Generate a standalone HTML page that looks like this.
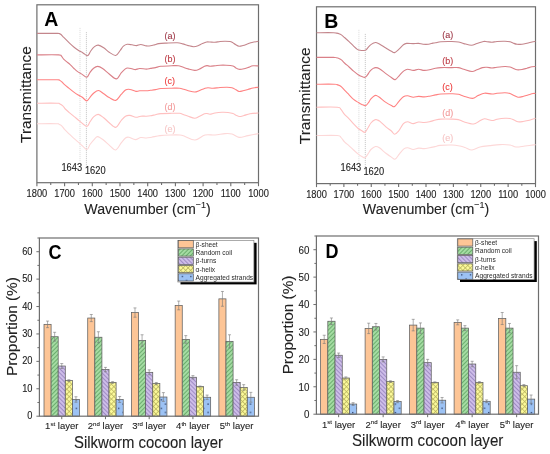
<!DOCTYPE html>
<html><head><meta charset="utf-8"><style>
html,body{margin:0;padding:0;background:#fff;}
svg{display:block;filter:blur(0.3px);}
svg text{font-family:"Liberation Sans", sans-serif;}
</style></head><body>
<svg width="550" height="454" viewBox="0 0 550 454">
<defs>
<pattern id="pg" width="3" height="3" patternUnits="userSpaceOnUse" patternTransform="rotate(45)"><rect width="3" height="3" fill="#a4dca2"/><rect x="0" y="0" width="0.65" height="3" fill="#4e9452"/></pattern>
<pattern id="pp" width="3" height="3" patternUnits="userSpaceOnUse" patternTransform="rotate(-45)"><rect width="3" height="3" fill="#cdbde8"/><rect x="0" y="0" width="0.65" height="3" fill="#8672b2"/></pattern>
<pattern id="py" width="3.5" height="3.5" patternUnits="userSpaceOnUse" patternTransform="rotate(45)"><rect width="3.5" height="3.5" fill="#fbf99a"/><rect x="0" y="0" width="0.7" height="3.5" fill="#b8b25e"/><rect x="0" y="0" width="3.5" height="0.7" fill="#b8b25e"/></pattern>
<pattern id="pbC" x="75.7" y="407.7" width="8.5" height="8.4" patternUnits="userSpaceOnUse"><rect width="8.5" height="8.4" fill="#9cc2f4"/><rect x="0" y="0" width="1.2" height="1.2" fill="#1c2a50"/><rect x="4.25" y="4.2" width="1.2" height="1.2" fill="#1c2a50"/></pattern>
<pattern id="pbD" x="394.7" y="403.5" width="8.5" height="8.4" patternUnits="userSpaceOnUse"><rect width="8.5" height="8.4" fill="#9cc2f4"/><rect x="0" y="0" width="1.2" height="1.2" fill="#1c2a50"/><rect x="4.25" y="4.2" width="1.2" height="1.2" fill="#1c2a50"/></pattern>
<pattern id="pbL" x="181.7" y="275.8" width="8.6" height="8.4" patternUnits="userSpaceOnUse"><rect width="8.6" height="8.4" fill="#9cc2f4"/><rect x="0" y="0" width="1.2" height="1.2" fill="#1c2a50"/><rect x="4.3" y="4.2" width="1.2" height="1.2" fill="#1c2a50"/></pattern>
<pattern id="pbL2" x="461.2" y="274.3" width="8.6" height="8.4" patternUnits="userSpaceOnUse"><rect width="8.6" height="8.4" fill="#9cc2f4"/><rect x="0" y="0" width="1.2" height="1.2" fill="#1c2a50"/><rect x="4.3" y="4.2" width="1.2" height="1.2" fill="#1c2a50"/></pattern>
</defs>
<rect x="36.9" y="4.8" width="221.6" height="177.89999999999998" fill="none" stroke="#6e6e6e" stroke-width="1.2"/>
<line x1="36.90" y1="182.7" x2="36.90" y2="186.2" stroke="#6e6e6e" stroke-width="1.1"/>
<line x1="50.75" y1="182.7" x2="50.75" y2="184.89999999999998" stroke="#6e6e6e" stroke-width="1.1"/>
<line x1="64.60" y1="182.7" x2="64.60" y2="186.2" stroke="#6e6e6e" stroke-width="1.1"/>
<line x1="78.45" y1="182.7" x2="78.45" y2="184.89999999999998" stroke="#6e6e6e" stroke-width="1.1"/>
<line x1="92.30" y1="182.7" x2="92.30" y2="186.2" stroke="#6e6e6e" stroke-width="1.1"/>
<line x1="106.15" y1="182.7" x2="106.15" y2="184.89999999999998" stroke="#6e6e6e" stroke-width="1.1"/>
<line x1="120.00" y1="182.7" x2="120.00" y2="186.2" stroke="#6e6e6e" stroke-width="1.1"/>
<line x1="133.85" y1="182.7" x2="133.85" y2="184.89999999999998" stroke="#6e6e6e" stroke-width="1.1"/>
<line x1="147.70" y1="182.7" x2="147.70" y2="186.2" stroke="#6e6e6e" stroke-width="1.1"/>
<line x1="161.55" y1="182.7" x2="161.55" y2="184.89999999999998" stroke="#6e6e6e" stroke-width="1.1"/>
<line x1="175.40" y1="182.7" x2="175.40" y2="186.2" stroke="#6e6e6e" stroke-width="1.1"/>
<line x1="189.25" y1="182.7" x2="189.25" y2="184.89999999999998" stroke="#6e6e6e" stroke-width="1.1"/>
<line x1="203.10" y1="182.7" x2="203.10" y2="186.2" stroke="#6e6e6e" stroke-width="1.1"/>
<line x1="216.95" y1="182.7" x2="216.95" y2="184.89999999999998" stroke="#6e6e6e" stroke-width="1.1"/>
<line x1="230.80" y1="182.7" x2="230.80" y2="186.2" stroke="#6e6e6e" stroke-width="1.1"/>
<line x1="244.65" y1="182.7" x2="244.65" y2="184.89999999999998" stroke="#6e6e6e" stroke-width="1.1"/>
<line x1="258.50" y1="182.7" x2="258.50" y2="186.2" stroke="#6e6e6e" stroke-width="1.1"/>
<text transform="translate(36.90,197.30) scale(1,1.09)" font-size="9.3" text-anchor="middle" fill="#222" stroke="#222" stroke-width="0.1">1800</text>
<text transform="translate(64.60,197.30) scale(1,1.09)" font-size="9.3" text-anchor="middle" fill="#222" stroke="#222" stroke-width="0.1">1700</text>
<text transform="translate(92.30,197.30) scale(1,1.09)" font-size="9.3" text-anchor="middle" fill="#222" stroke="#222" stroke-width="0.1">1600</text>
<text transform="translate(120.00,197.30) scale(1,1.09)" font-size="9.3" text-anchor="middle" fill="#222" stroke="#222" stroke-width="0.1">1500</text>
<text transform="translate(147.70,197.30) scale(1,1.09)" font-size="9.3" text-anchor="middle" fill="#222" stroke="#222" stroke-width="0.1">1400</text>
<text transform="translate(175.40,197.30) scale(1,1.09)" font-size="9.3" text-anchor="middle" fill="#222" stroke="#222" stroke-width="0.1">1300</text>
<text transform="translate(203.10,197.30) scale(1,1.09)" font-size="9.3" text-anchor="middle" fill="#222" stroke="#222" stroke-width="0.1">1200</text>
<text transform="translate(230.80,197.30) scale(1,1.09)" font-size="9.3" text-anchor="middle" fill="#222" stroke="#222" stroke-width="0.1">1100</text>
<text transform="translate(258.50,197.30) scale(1,1.09)" font-size="9.3" text-anchor="middle" fill="#222" stroke="#222" stroke-width="0.1">1000</text>
<line x1="80" y1="27.9" x2="80" y2="162.5" stroke="#dadada" stroke-width="1" stroke-dasharray="1,1"/>
<line x1="86.4" y1="32.2" x2="86.4" y2="166.5" stroke="#c2c2c2" stroke-width="1" stroke-dasharray="1,1"/>
<path d="M37.00,33.40 C40.42,33.40 53.75,33.33 57.50,33.40 C61.25,33.47 58.92,33.62 59.50,33.80 C60.08,33.98 60.28,33.90 61.00,34.50 C61.72,35.10 62.38,35.97 63.80,37.40 C65.22,38.83 67.73,41.42 69.50,43.10 C71.27,44.78 72.82,46.23 74.40,47.50 C75.98,48.77 77.73,49.90 79.00,50.70 C80.27,51.50 81.00,51.68 82.00,52.30 C83.00,52.92 84.12,53.83 85.00,54.40 C85.88,54.97 86.63,55.73 87.30,55.70 C87.97,55.67 88.40,55.03 89.00,54.20 C89.60,53.37 89.98,51.97 90.90,50.70 C91.82,49.43 93.27,47.53 94.50,46.60 C95.73,45.67 96.77,44.90 98.30,45.10 C99.83,45.30 101.88,46.62 103.70,47.80 C105.52,48.98 107.20,50.92 109.20,52.20 C111.20,53.48 113.88,55.78 115.70,55.50 C117.52,55.22 118.82,52.05 120.10,50.50 C121.38,48.95 122.22,47.23 123.40,46.20 C124.58,45.17 125.75,44.53 127.20,44.30 C128.65,44.07 130.55,44.58 132.10,44.80 C133.65,45.02 135.05,45.65 136.50,45.60 C137.95,45.55 139.17,44.45 140.80,44.50 C142.43,44.55 144.68,45.68 146.30,45.90 C147.92,46.12 149.15,45.97 150.50,45.80 C151.85,45.63 153.03,45.27 154.40,44.90 C155.77,44.53 156.70,43.90 158.70,43.60 C160.70,43.30 163.30,43.23 166.40,43.10 C169.50,42.97 174.58,42.67 177.30,42.80 C180.02,42.93 180.88,43.43 182.70,43.90 C184.52,44.37 186.38,45.13 188.20,45.60 C190.02,46.07 191.97,46.67 193.60,46.70 C195.23,46.73 196.53,46.32 198.00,45.80 C199.47,45.28 200.95,44.23 202.40,43.60 C203.85,42.97 205.43,42.27 206.70,42.00 C207.97,41.73 208.62,41.95 210.00,42.00 C211.38,42.05 213.33,42.38 215.00,42.30 C216.67,42.22 218.33,41.68 220.00,41.50 C221.67,41.32 223.33,41.20 225.00,41.20 C226.67,41.20 228.75,41.28 230.00,41.50 C231.25,41.72 231.58,42.00 232.50,42.50 C233.42,43.00 234.42,43.88 235.50,44.50 C236.58,45.12 237.75,46.03 239.00,46.20 C240.25,46.37 241.50,45.90 243.00,45.50 C244.50,45.10 246.50,44.30 248.00,43.80 C249.50,43.30 250.25,42.92 252.00,42.50 C253.75,42.08 257.42,41.50 258.50,41.30" fill="none" stroke="#c4868c" stroke-width="1.1"/>
<path d="M37.00,54.90 C40.60,54.90 54.53,54.70 58.60,54.90 C62.67,55.10 60.60,55.43 61.40,56.10 C62.20,56.77 62.58,58.02 63.40,58.90 C64.22,59.78 65.13,60.42 66.30,61.40 C67.47,62.38 69.12,63.62 70.40,64.80 C71.68,65.98 72.85,67.40 74.00,68.50 C75.15,69.60 76.00,70.47 77.30,71.40 C78.60,72.33 80.22,73.12 81.80,74.10 C83.38,75.08 85.43,77.60 86.80,77.30 C88.17,77.00 88.87,73.82 90.00,72.30 C91.13,70.78 92.32,69.18 93.60,68.20 C94.88,67.22 96.20,66.35 97.70,66.40 C99.20,66.45 100.68,67.23 102.60,68.50 C104.52,69.77 106.92,72.27 109.20,74.00 C111.48,75.73 114.30,79.08 116.30,78.90 C118.30,78.72 119.75,74.53 121.20,72.90 C122.65,71.27 123.92,69.92 125.00,69.10 C126.08,68.28 126.52,68.05 127.70,68.00 C128.88,67.95 130.82,68.53 132.10,68.80 C133.38,69.07 134.13,69.65 135.40,69.60 C136.67,69.55 137.88,68.58 139.70,68.50 C141.52,68.42 144.50,69.12 146.30,69.10 C148.10,69.08 148.97,68.65 150.50,68.40 C152.03,68.15 153.77,67.95 155.50,67.60 C157.23,67.25 158.18,66.62 160.90,66.30 C163.62,65.98 168.88,65.80 171.80,65.70 C174.72,65.60 176.58,65.47 178.40,65.70 C180.22,65.93 181.07,66.57 182.70,67.10 C184.33,67.63 186.20,68.35 188.20,68.90 C190.20,69.45 192.88,70.33 194.70,70.40 C196.52,70.47 197.47,69.98 199.10,69.30 C200.73,68.62 203.18,66.92 204.50,66.30 C205.82,65.68 206.08,65.62 207.00,65.60 C207.92,65.58 208.67,66.17 210.00,66.20 C211.33,66.23 213.33,65.97 215.00,65.80 C216.67,65.63 218.17,65.30 220.00,65.20 C221.83,65.10 223.83,65.07 226.00,65.20 C228.17,65.33 231.33,65.53 233.00,66.00 C234.67,66.47 235.00,67.45 236.00,68.00 C237.00,68.55 237.67,69.17 239.00,69.30 C240.33,69.43 242.50,69.10 244.00,68.80 C245.50,68.50 246.50,68.00 248.00,67.50 C249.50,67.00 251.25,66.05 253.00,65.80 C254.75,65.55 257.58,65.97 258.50,66.00" fill="none" stroke="#da8088" stroke-width="1.1"/>
<path d="M37.00,79.80 C40.33,79.80 53.23,79.73 57.00,79.80 C60.77,79.87 58.77,79.83 59.60,80.20 C60.43,80.57 61.27,81.35 62.00,82.00 C62.73,82.65 63.00,83.18 64.00,84.10 C65.00,85.02 66.30,86.12 68.00,87.50 C69.70,88.88 72.35,91.07 74.20,92.40 C76.05,93.73 77.75,94.68 79.10,95.50 C80.45,96.32 81.02,96.40 82.30,97.30 C83.58,98.20 85.52,100.90 86.80,100.90 C88.08,100.90 88.87,98.58 90.00,97.30 C91.13,96.02 92.18,94.33 93.60,93.20 C95.02,92.07 96.82,90.40 98.50,90.50 C100.18,90.60 101.92,92.62 103.70,93.80 C105.48,94.98 107.20,96.50 109.20,97.60 C111.20,98.70 113.70,100.93 115.70,100.40 C117.70,99.87 119.57,96.13 121.20,94.40 C122.83,92.67 124.23,90.87 125.50,90.00 C126.77,89.13 127.70,89.20 128.80,89.20 C129.90,89.20 130.92,89.63 132.10,90.00 C133.28,90.37 134.63,91.27 135.90,91.40 C137.17,91.53 137.97,90.90 139.70,90.80 C141.43,90.70 144.50,90.88 146.30,90.80 C148.10,90.72 148.97,90.50 150.50,90.30 C152.03,90.10 153.77,89.90 155.50,89.60 C157.23,89.30 158.18,88.73 160.90,88.50 C163.62,88.27 168.70,88.25 171.80,88.20 C174.90,88.15 177.50,88.02 179.50,88.20 C181.50,88.38 182.35,88.88 183.80,89.30 C185.25,89.72 186.38,90.25 188.20,90.70 C190.02,91.15 192.88,92.00 194.70,92.00 C196.52,92.00 197.47,91.28 199.10,90.70 C200.73,90.12 203.02,89.00 204.50,88.50 C205.98,88.00 206.58,87.73 208.00,87.70 C209.42,87.67 211.00,88.33 213.00,88.30 C215.00,88.27 217.67,87.68 220.00,87.50 C222.33,87.32 225.00,87.17 227.00,87.20 C229.00,87.23 230.50,87.27 232.00,87.70 C233.50,88.13 234.83,89.17 236.00,89.80 C237.17,90.43 237.83,91.33 239.00,91.50 C240.17,91.67 241.50,91.13 243.00,90.80 C244.50,90.47 246.33,89.97 248.00,89.50 C249.67,89.03 251.25,88.37 253.00,88.00 C254.75,87.63 257.58,87.42 258.50,87.30" fill="none" stroke="#ff8282" stroke-width="1.1"/>
<path d="M37.00,103.20 C40.33,103.20 53.25,103.10 57.00,103.20 C60.75,103.30 58.53,103.37 59.50,103.80 C60.47,104.23 61.83,104.93 62.80,105.80 C63.77,106.67 64.27,107.92 65.30,109.00 C66.33,110.08 67.52,111.03 69.00,112.30 C70.48,113.57 72.37,115.08 74.20,116.60 C76.03,118.12 77.90,119.77 80.00,121.40 C82.10,123.03 85.13,126.33 86.80,126.40 C88.47,126.47 88.87,123.40 90.00,121.80 C91.13,120.20 92.22,118.03 93.60,116.80 C94.98,115.57 96.62,114.23 98.30,114.40 C99.98,114.57 101.88,116.42 103.70,117.80 C105.52,119.18 107.20,121.10 109.20,122.70 C111.20,124.30 113.70,127.77 115.70,127.40 C117.70,127.03 119.57,122.37 121.20,120.50 C122.83,118.63 124.05,117.05 125.50,116.20 C126.95,115.35 128.17,115.22 129.90,115.40 C131.63,115.58 134.08,117.17 135.90,117.30 C137.72,117.43 139.07,116.38 140.80,116.20 C142.53,116.02 144.68,116.27 146.30,116.20 C147.92,116.13 148.97,116.05 150.50,115.80 C152.03,115.55 153.77,115.07 155.50,114.70 C157.23,114.33 158.18,113.83 160.90,113.60 C163.62,113.37 168.70,113.35 171.80,113.30 C174.90,113.25 177.50,113.07 179.50,113.30 C181.50,113.53 182.35,114.20 183.80,114.70 C185.25,115.20 186.38,115.72 188.20,116.30 C190.02,116.88 192.88,118.17 194.70,118.20 C196.52,118.23 197.47,117.23 199.10,116.50 C200.73,115.77 203.18,114.30 204.50,113.80 C205.82,113.30 206.08,113.43 207.00,113.50 C207.92,113.57 208.67,114.28 210.00,114.20 C211.33,114.12 213.00,113.32 215.00,113.00 C217.00,112.68 219.83,112.38 222.00,112.30 C224.17,112.22 226.17,112.30 228.00,112.50 C229.83,112.70 231.67,113.05 233.00,113.50 C234.33,113.95 234.92,114.70 236.00,115.20 C237.08,115.70 238.17,116.45 239.50,116.50 C240.83,116.55 242.25,115.95 244.00,115.50 C245.75,115.05 247.58,114.22 250.00,113.80 C252.42,113.38 257.08,113.13 258.50,113.00" fill="none" stroke="#ffc0c0" stroke-width="1.1"/>
<path d="M37.00,123.70 C40.23,123.70 52.73,123.60 56.40,123.70 C60.07,123.80 58.15,123.98 59.00,124.30 C59.85,124.62 60.58,124.77 61.50,125.60 C62.42,126.43 63.33,128.02 64.50,129.30 C65.67,130.58 66.98,131.82 68.50,133.30 C70.02,134.78 71.68,136.48 73.60,138.20 C75.52,139.92 77.80,141.72 80.00,143.60 C82.20,145.48 85.13,149.35 86.80,149.50 C88.47,149.65 88.72,146.23 90.00,144.50 C91.28,142.77 93.22,140.42 94.50,139.10 C95.78,137.78 96.17,136.42 97.70,136.60 C99.23,136.78 101.78,138.78 103.70,140.20 C105.62,141.62 107.20,143.47 109.20,145.10 C111.20,146.73 113.70,150.37 115.70,150.00 C117.70,149.63 119.57,144.90 121.20,142.90 C122.83,140.90 124.23,138.95 125.50,138.00 C126.77,137.05 127.15,136.93 128.80,137.20 C130.45,137.47 133.40,139.55 135.40,139.60 C137.40,139.65 138.98,137.77 140.80,137.50 C142.62,137.23 144.48,138.05 146.30,138.00 C148.12,137.95 149.42,137.60 151.70,137.20 C153.98,136.80 156.95,135.97 160.00,135.60 C163.05,135.23 166.67,135.10 170.00,135.00 C173.33,134.90 177.50,134.77 180.00,135.00 C182.50,135.23 182.50,135.57 185.00,136.40 C187.50,137.23 191.67,140.23 195.00,140.00 C198.33,139.77 201.67,135.83 205.00,135.00 C208.33,134.17 211.67,135.23 215.00,135.00 C218.33,134.77 222.17,133.77 225.00,133.60 C227.83,133.43 229.67,133.37 232.00,134.00 C234.33,134.63 236.33,137.13 239.00,137.40 C241.67,137.67 244.75,136.23 248.00,135.60 C251.25,134.97 256.75,133.93 258.50,133.60" fill="none" stroke="#fdd8d8" stroke-width="1.1"/>
<text transform="translate(164.60,39.20) scale(1,1.09)" font-size="9" fill="#9c3444" stroke="#9c3444" stroke-width="0.1">(a)</text>
<text transform="translate(164.60,61.80) scale(1,1.09)" font-size="9" fill="#bc3a44" stroke="#bc3a44" stroke-width="0.1">(b)</text>
<text transform="translate(164.60,84.40) scale(1,1.09)" font-size="9" fill="#ec3a3a" stroke="#ec3a3a" stroke-width="0.1">(c)</text>
<text transform="translate(164.60,109.60) scale(1,1.09)" font-size="9" fill="#f29a9a" stroke="#f29a9a" stroke-width="0.1">(d)</text>
<text transform="translate(164.60,131.50) scale(1,1.09)" font-size="9" fill="#f6c6c6" stroke="#f6c6c6" stroke-width="0.1">(e)</text>
<text transform="translate(61.40,170.60) scale(1,1.09)" font-size="9.3" fill="#222" stroke="#222" stroke-width="0.1">1643</text>
<text transform="translate(84.90,173.90) scale(1,1.09)" font-size="9.3" fill="#222" stroke="#222" stroke-width="0.1">1620</text>
<text transform="translate(44.30,26.20) scale(1,1.06)" font-size="19.5" font-weight="bold" fill="#000">A</text>
<text transform="translate(30.80,94.55) rotate(-90) scale(1.025,1)" font-size="15" text-anchor="middle" fill="#222" stroke="#222" stroke-width="0.1">Transmittance</text>
<text transform="translate(147.50,214.00) scale(1,1.09)" font-size="14.2" text-anchor="middle" fill="#222" stroke="#222" stroke-width="0.1">Wavenumber (cm<tspan font-size="9" dy="-5.5">&#8722;1</tspan><tspan dy="5.5">)</tspan></text>
<rect x="316.5" y="6.8" width="219.0" height="176.79999999999998" fill="none" stroke="#6e6e6e" stroke-width="1.2"/>
<line x1="316.50" y1="183.6" x2="316.50" y2="187.1" stroke="#6e6e6e" stroke-width="1.1"/>
<line x1="330.19" y1="183.6" x2="330.19" y2="185.79999999999998" stroke="#6e6e6e" stroke-width="1.1"/>
<line x1="343.88" y1="183.6" x2="343.88" y2="187.1" stroke="#6e6e6e" stroke-width="1.1"/>
<line x1="357.56" y1="183.6" x2="357.56" y2="185.79999999999998" stroke="#6e6e6e" stroke-width="1.1"/>
<line x1="371.25" y1="183.6" x2="371.25" y2="187.1" stroke="#6e6e6e" stroke-width="1.1"/>
<line x1="384.94" y1="183.6" x2="384.94" y2="185.79999999999998" stroke="#6e6e6e" stroke-width="1.1"/>
<line x1="398.62" y1="183.6" x2="398.62" y2="187.1" stroke="#6e6e6e" stroke-width="1.1"/>
<line x1="412.31" y1="183.6" x2="412.31" y2="185.79999999999998" stroke="#6e6e6e" stroke-width="1.1"/>
<line x1="426.00" y1="183.6" x2="426.00" y2="187.1" stroke="#6e6e6e" stroke-width="1.1"/>
<line x1="439.69" y1="183.6" x2="439.69" y2="185.79999999999998" stroke="#6e6e6e" stroke-width="1.1"/>
<line x1="453.38" y1="183.6" x2="453.38" y2="187.1" stroke="#6e6e6e" stroke-width="1.1"/>
<line x1="467.06" y1="183.6" x2="467.06" y2="185.79999999999998" stroke="#6e6e6e" stroke-width="1.1"/>
<line x1="480.75" y1="183.6" x2="480.75" y2="187.1" stroke="#6e6e6e" stroke-width="1.1"/>
<line x1="494.44" y1="183.6" x2="494.44" y2="185.79999999999998" stroke="#6e6e6e" stroke-width="1.1"/>
<line x1="508.12" y1="183.6" x2="508.12" y2="187.1" stroke="#6e6e6e" stroke-width="1.1"/>
<line x1="521.81" y1="183.6" x2="521.81" y2="185.79999999999998" stroke="#6e6e6e" stroke-width="1.1"/>
<line x1="535.50" y1="183.6" x2="535.50" y2="187.1" stroke="#6e6e6e" stroke-width="1.1"/>
<text transform="translate(316.50,197.70) scale(1,1.09)" font-size="9.3" text-anchor="middle" fill="#222" stroke="#222" stroke-width="0.1">1800</text>
<text transform="translate(343.88,197.70) scale(1,1.09)" font-size="9.3" text-anchor="middle" fill="#222" stroke="#222" stroke-width="0.1">1700</text>
<text transform="translate(371.25,197.70) scale(1,1.09)" font-size="9.3" text-anchor="middle" fill="#222" stroke="#222" stroke-width="0.1">1600</text>
<text transform="translate(398.62,197.70) scale(1,1.09)" font-size="9.3" text-anchor="middle" fill="#222" stroke="#222" stroke-width="0.1">1500</text>
<text transform="translate(426.00,197.70) scale(1,1.09)" font-size="9.3" text-anchor="middle" fill="#222" stroke="#222" stroke-width="0.1">1400</text>
<text transform="translate(453.38,197.70) scale(1,1.09)" font-size="9.3" text-anchor="middle" fill="#222" stroke="#222" stroke-width="0.1">1300</text>
<text transform="translate(480.75,197.70) scale(1,1.09)" font-size="9.3" text-anchor="middle" fill="#222" stroke="#222" stroke-width="0.1">1200</text>
<text transform="translate(508.12,197.70) scale(1,1.09)" font-size="9.3" text-anchor="middle" fill="#222" stroke="#222" stroke-width="0.1">1100</text>
<text transform="translate(535.50,197.70) scale(1,1.09)" font-size="9.3" text-anchor="middle" fill="#222" stroke="#222" stroke-width="0.1">1000</text>
<line x1="358.9" y1="29.8" x2="358.9" y2="163.5" stroke="#dadada" stroke-width="1" stroke-dasharray="1,1"/>
<line x1="365.3" y1="33.9" x2="365.3" y2="167.5" stroke="#c2c2c2" stroke-width="1" stroke-dasharray="1,1"/>
<path d="M316.50,32.70 C319.33,32.70 330.17,32.63 333.50,32.70 C336.83,32.77 335.58,32.93 336.50,33.10 C337.42,33.27 338.18,33.40 339.00,33.70 C339.82,34.00 340.48,34.27 341.40,34.90 C342.32,35.53 343.22,36.38 344.50,37.50 C345.78,38.62 347.58,40.15 349.10,41.60 C350.62,43.05 352.23,44.90 353.60,46.20 C354.97,47.50 356.23,48.72 357.30,49.40 C358.37,50.08 358.72,50.15 360.00,50.30 C361.28,50.45 363.78,50.60 365.00,50.30 C366.22,50.00 366.47,49.33 367.30,48.50 C368.13,47.67 368.95,46.22 370.00,45.30 C371.05,44.38 372.62,43.47 373.60,43.00 C374.58,42.53 374.93,42.33 375.90,42.50 C376.87,42.67 377.73,43.08 379.40,44.00 C381.07,44.92 383.90,46.78 385.90,48.00 C387.90,49.22 389.95,50.53 391.40,51.30 C392.85,52.07 393.33,52.97 394.60,52.60 C395.87,52.23 397.53,50.42 399.00,49.10 C400.47,47.78 402.13,45.65 403.40,44.70 C404.67,43.75 404.97,43.58 406.60,43.40 C408.23,43.22 411.20,43.60 413.20,43.60 C415.20,43.60 416.97,43.30 418.60,43.40 C420.23,43.50 421.35,44.07 423.00,44.20 C424.65,44.33 426.87,44.38 428.50,44.20 C430.13,44.02 431.63,43.33 432.80,43.10 C433.97,42.87 434.15,43.03 435.50,42.80 C436.85,42.57 438.18,41.92 440.90,41.70 C443.62,41.48 448.88,41.45 451.80,41.50 C454.72,41.55 456.40,41.65 458.40,42.00 C460.40,42.35 461.62,43.05 463.80,43.60 C465.98,44.15 469.32,45.30 471.50,45.30 C473.68,45.30 474.90,44.23 476.90,43.60 C478.90,42.97 481.82,41.82 483.50,41.50 C485.18,41.18 485.58,41.58 487.00,41.70 C488.42,41.82 490.33,42.23 492.00,42.20 C493.67,42.17 494.83,41.65 497.00,41.50 C499.17,41.35 502.83,41.25 505.00,41.30 C507.17,41.35 508.67,41.52 510.00,41.80 C511.33,42.08 511.83,42.58 513.00,43.00 C514.17,43.42 515.50,44.10 517.00,44.30 C518.50,44.50 520.33,44.38 522.00,44.20 C523.67,44.02 525.33,43.57 527.00,43.20 C528.67,42.83 530.58,42.32 532.00,42.00 C533.42,41.68 534.92,41.42 535.50,41.30" fill="none" stroke="#c4868c" stroke-width="1.1"/>
<path d="M316.50,57.40 C319.33,57.40 330.17,57.33 333.50,57.40 C336.83,57.47 335.58,57.60 336.50,57.80 C337.42,58.00 338.18,58.25 339.00,58.60 C339.82,58.95 340.48,59.17 341.40,59.90 C342.32,60.63 343.22,61.82 344.50,63.00 C345.78,64.18 347.58,65.65 349.10,67.00 C350.62,68.35 352.08,69.82 353.60,71.10 C355.12,72.38 356.83,73.80 358.20,74.70 C359.57,75.60 360.67,76.07 361.80,76.50 C362.93,76.93 364.08,77.52 365.00,77.30 C365.92,77.08 366.47,76.23 367.30,75.20 C368.13,74.17 369.02,72.23 370.00,71.10 C370.98,69.97 372.22,68.98 373.20,68.40 C374.18,67.82 374.87,67.55 375.90,67.60 C376.93,67.65 377.73,67.70 379.40,68.70 C381.07,69.70 383.90,72.13 385.90,73.60 C387.90,75.07 389.85,76.50 391.40,77.50 C392.95,78.50 393.85,79.97 395.20,79.60 C396.55,79.23 398.05,76.75 399.50,75.30 C400.95,73.85 402.53,71.90 403.90,70.90 C405.27,69.90 406.15,69.38 407.70,69.30 C409.25,69.22 411.38,70.40 413.20,70.40 C415.02,70.40 416.78,69.30 418.60,69.30 C420.42,69.30 422.28,70.32 424.10,70.40 C425.92,70.48 427.60,70.17 429.50,69.80 C431.40,69.43 433.60,68.57 435.50,68.20 C437.40,67.83 438.18,67.70 440.90,67.60 C443.62,67.50 448.88,67.60 451.80,67.60 C454.72,67.60 456.40,67.32 458.40,67.60 C460.40,67.88 461.53,68.65 463.80,69.30 C466.07,69.95 469.82,71.42 472.00,71.50 C474.18,71.58 475.17,70.45 476.90,69.80 C478.63,69.15 480.72,68.02 482.40,67.60 C484.08,67.18 485.40,67.23 487.00,67.30 C488.60,67.37 490.33,68.02 492.00,68.00 C493.67,67.98 494.83,67.45 497.00,67.20 C499.17,66.95 502.83,66.53 505.00,66.50 C507.17,66.47 508.67,66.72 510.00,67.00 C511.33,67.28 511.83,67.73 513.00,68.20 C514.17,68.67 515.50,69.58 517.00,69.80 C518.50,70.02 520.33,69.77 522.00,69.50 C523.67,69.23 525.33,68.65 527.00,68.20 C528.67,67.75 530.58,67.08 532.00,66.80 C533.42,66.52 534.92,66.55 535.50,66.50" fill="none" stroke="#da8088" stroke-width="1.1"/>
<path d="M316.50,84.20 C319.42,84.20 330.58,84.13 334.00,84.20 C337.42,84.27 336.08,84.38 337.00,84.60 C337.92,84.82 338.67,85.03 339.50,85.50 C340.33,85.97 341.17,86.62 342.00,87.40 C342.83,88.18 343.32,88.97 344.50,90.20 C345.68,91.43 347.58,93.27 349.10,94.80 C350.62,96.33 352.08,98.13 353.60,99.40 C355.12,100.67 356.83,101.57 358.20,102.40 C359.57,103.23 360.58,103.85 361.80,104.40 C363.02,104.95 364.43,105.93 365.50,105.70 C366.57,105.47 367.30,104.13 368.20,103.00 C369.10,101.87 369.85,100.12 370.90,98.90 C371.95,97.68 373.58,96.27 374.50,95.70 C375.42,95.13 375.58,95.23 376.40,95.50 C377.22,95.77 377.82,96.15 379.40,97.30 C380.98,98.45 383.90,101.02 385.90,102.40 C387.90,103.78 389.95,104.92 391.40,105.60 C392.85,106.28 393.33,107.22 394.60,106.50 C395.87,105.78 397.53,102.93 399.00,101.30 C400.47,99.67 401.95,97.62 403.40,96.70 C404.85,95.78 406.07,95.72 407.70,95.80 C409.33,95.88 411.38,97.10 413.20,97.20 C415.02,97.30 416.78,96.45 418.60,96.40 C420.42,96.35 422.28,96.93 424.10,96.90 C425.92,96.87 427.60,96.53 429.50,96.20 C431.40,95.87 433.60,95.27 435.50,94.90 C437.40,94.53 438.18,94.18 440.90,94.00 C443.62,93.82 448.88,93.77 451.80,93.80 C454.72,93.83 456.40,93.80 458.40,94.20 C460.40,94.60 461.45,95.50 463.80,96.20 C466.15,96.90 470.13,98.50 472.50,98.40 C474.87,98.30 476.00,96.47 478.00,95.60 C480.00,94.73 482.17,93.47 484.50,93.20 C486.83,92.93 489.92,93.98 492.00,94.00 C494.08,94.02 494.83,93.50 497.00,93.30 C499.17,93.10 502.83,92.77 505.00,92.80 C507.17,92.83 508.50,93.05 510.00,93.50 C511.50,93.95 512.67,94.88 514.00,95.50 C515.33,96.12 516.50,97.03 518.00,97.20 C519.50,97.37 521.33,96.87 523.00,96.50 C524.67,96.13 526.33,95.50 528.00,95.00 C529.67,94.50 531.75,93.75 533.00,93.50 C534.25,93.25 535.08,93.50 535.50,93.50" fill="none" stroke="#ff8282" stroke-width="1.1"/>
<path d="M316.50,107.20 C319.97,107.20 333.23,106.83 337.30,107.20 C341.37,107.57 339.77,108.28 340.90,109.40 C342.03,110.52 342.73,112.32 344.10,113.90 C345.47,115.48 347.52,117.23 349.10,118.90 C350.68,120.57 352.08,122.30 353.60,123.90 C355.12,125.50 356.83,127.37 358.20,128.50 C359.57,129.63 360.67,130.07 361.80,130.70 C362.93,131.33 363.93,132.83 365.00,132.30 C366.07,131.77 367.22,129.05 368.20,127.50 C369.18,125.95 369.77,124.28 370.90,123.00 C372.03,121.72 373.93,120.30 375.00,119.80 C376.07,119.30 376.47,119.73 377.30,120.00 C378.13,120.27 378.57,120.25 380.00,121.40 C381.43,122.55 384.00,125.30 385.90,126.90 C387.80,128.50 389.95,129.78 391.40,131.00 C392.85,132.22 393.42,134.17 394.60,134.20 C395.78,134.23 397.03,132.97 398.50,131.20 C399.97,129.43 401.87,125.17 403.40,123.60 C404.93,122.03 406.07,121.80 407.70,121.80 C409.33,121.80 411.38,123.57 413.20,123.60 C415.02,123.63 416.78,122.18 418.60,122.00 C420.42,121.82 422.28,122.53 424.10,122.50 C425.92,122.47 427.60,122.22 429.50,121.80 C431.40,121.38 433.60,120.45 435.50,120.00 C437.40,119.55 438.18,119.25 440.90,119.10 C443.62,118.95 448.88,119.02 451.80,119.10 C454.72,119.18 456.40,119.15 458.40,119.60 C460.40,120.05 461.27,121.07 463.80,121.80 C466.33,122.53 471.05,124.08 473.60,124.00 C476.15,123.92 477.28,122.17 479.10,121.30 C480.92,120.43 482.35,118.93 484.50,118.80 C486.65,118.67 489.92,120.42 492.00,120.50 C494.08,120.58 494.83,119.67 497.00,119.30 C499.17,118.93 502.83,118.43 505.00,118.30 C507.17,118.17 508.50,118.22 510.00,118.50 C511.50,118.78 512.67,119.45 514.00,120.00 C515.33,120.55 516.50,121.55 518.00,121.80 C519.50,122.05 521.33,121.72 523.00,121.50 C524.67,121.28 526.33,120.92 528.00,120.50 C529.67,120.08 531.75,119.37 533.00,119.00 C534.25,118.63 535.08,118.42 535.50,118.30" fill="none" stroke="#ffc0c0" stroke-width="1.1"/>
<path d="M316.50,135.50 C319.97,135.50 333.23,135.20 337.30,135.50 C341.37,135.80 339.70,136.25 340.90,137.30 C342.10,138.35 343.13,140.37 344.50,141.80 C345.87,143.23 347.58,144.53 349.10,145.90 C350.62,147.27 352.08,148.63 353.60,150.00 C355.12,151.37 356.83,153.03 358.20,154.10 C359.57,155.17 360.67,155.80 361.80,156.40 C362.93,157.00 363.93,158.17 365.00,157.70 C366.07,157.23 367.22,154.97 368.20,153.60 C369.18,152.23 369.68,150.68 370.90,149.50 C372.12,148.32 374.08,146.78 375.50,146.50 C376.92,146.22 377.67,146.67 379.40,147.80 C381.13,148.93 383.90,151.75 385.90,153.30 C387.90,154.85 389.85,156.13 391.40,157.10 C392.95,158.07 393.85,159.65 395.20,159.10 C396.55,158.55 398.05,155.50 399.50,153.80 C400.95,152.10 402.53,149.90 403.90,148.90 C405.27,147.90 406.15,147.70 407.70,147.80 C409.25,147.90 411.38,149.45 413.20,149.50 C415.02,149.55 416.78,148.25 418.60,148.10 C420.42,147.95 422.28,148.65 424.10,148.60 C425.92,148.55 427.68,148.13 429.50,147.80 C431.32,147.47 433.25,147.00 435.00,146.60 C436.75,146.20 437.17,145.67 440.00,145.40 C442.83,145.13 448.67,144.90 452.00,145.00 C455.33,145.10 457.83,145.60 460.00,146.00 C462.17,146.40 463.00,146.73 465.00,147.40 C467.00,148.07 469.50,150.07 472.00,150.00 C474.50,149.93 477.00,147.73 480.00,147.00 C483.00,146.27 486.67,146.00 490.00,145.60 C493.33,145.20 496.67,144.70 500.00,144.60 C503.33,144.50 507.33,144.60 510.00,145.00 C512.67,145.40 513.50,146.83 516.00,147.00 C518.50,147.17 521.75,146.40 525.00,146.00 C528.25,145.60 533.75,144.83 535.50,144.60" fill="none" stroke="#fdd8d8" stroke-width="1.1"/>
<text transform="translate(442.30,37.80) scale(1,1.09)" font-size="9" fill="#9c3444" stroke="#9c3444" stroke-width="0.1">(a)</text>
<text transform="translate(442.30,63.50) scale(1,1.09)" font-size="9" fill="#bc3a44" stroke="#bc3a44" stroke-width="0.1">(b)</text>
<text transform="translate(442.30,90.40) scale(1,1.09)" font-size="9" fill="#ec3a3a" stroke="#ec3a3a" stroke-width="0.1">(c)</text>
<text transform="translate(442.30,115.50) scale(1,1.09)" font-size="9" fill="#f29a9a" stroke="#f29a9a" stroke-width="0.1">(d)</text>
<text transform="translate(442.30,141.00) scale(1,1.09)" font-size="9" fill="#f6c6c6" stroke="#f6c6c6" stroke-width="0.1">(e)</text>
<text transform="translate(340.60,171.40) scale(1,1.09)" font-size="9.3" fill="#222" stroke="#222" stroke-width="0.1">1643</text>
<text transform="translate(363.40,175.00) scale(1,1.09)" font-size="9.3" fill="#222" stroke="#222" stroke-width="0.1">1620</text>
<text transform="translate(324.30,27.70) scale(1,1.06)" font-size="19.5" font-weight="bold" fill="#000">B</text>
<text transform="translate(309.80,95.80) rotate(-90) scale(1.025,1)" font-size="15" text-anchor="middle" fill="#222" stroke="#222" stroke-width="0.1">Transmittance</text>
<text transform="translate(426.00,213.90) scale(1,1.09)" font-size="14.2" text-anchor="middle" fill="#222" stroke="#222" stroke-width="0.1">Wavenumber (cm<tspan font-size="9" dy="-5.5">&#8722;1</tspan><tspan dy="5.5">)</tspan></text>
<rect x="44.00" y="324.36" width="7.10" height="91.84" fill="#fdc596" stroke="#606060" stroke-width="0.75"/>
<rect x="51.10" y="336.70" width="7.10" height="79.50" fill="url(#pg)" stroke="#606060" stroke-width="0.75"/>
<rect x="58.20" y="366.03" width="7.10" height="50.17" fill="url(#pp)" stroke="#606060" stroke-width="0.75"/>
<rect x="65.30" y="380.56" width="7.10" height="35.64" fill="url(#py)" stroke="#606060" stroke-width="0.75"/>
<rect x="72.40" y="399.48" width="7.10" height="16.72" fill="url(#pbC)" stroke="#606060" stroke-width="0.75"/>
<path d="M47.55,321.07V327.65M46.05,321.07h3M46.05,327.65h3" stroke="#777" stroke-width="0.6" fill="none"/>
<path d="M54.65,332.31V341.08M53.15,332.31h3M53.15,341.08h3" stroke="#777" stroke-width="0.6" fill="none"/>
<path d="M61.75,363.56V368.50M60.25,363.56h3M60.25,368.50h3" stroke="#777" stroke-width="0.6" fill="none"/>
<path d="M68.85,379.74V381.38M67.35,379.74h3M67.35,381.38h3" stroke="#777" stroke-width="0.6" fill="none"/>
<path d="M75.95,396.74V402.22M74.45,396.74h3M74.45,402.22h3" stroke="#777" stroke-width="0.6" fill="none"/>
<rect x="87.72" y="318.05" width="7.10" height="98.15" fill="#fdc596" stroke="#606060" stroke-width="0.75"/>
<rect x="94.82" y="337.24" width="7.10" height="78.96" fill="url(#pg)" stroke="#606060" stroke-width="0.75"/>
<rect x="101.92" y="369.59" width="7.10" height="46.61" fill="url(#pp)" stroke="#606060" stroke-width="0.75"/>
<rect x="109.02" y="382.48" width="7.10" height="33.72" fill="url(#py)" stroke="#606060" stroke-width="0.75"/>
<rect x="116.12" y="399.48" width="7.10" height="16.72" fill="url(#pbC)" stroke="#606060" stroke-width="0.75"/>
<path d="M91.27,314.49V321.62M89.77,314.49h3M89.77,321.62h3" stroke="#777" stroke-width="0.6" fill="none"/>
<path d="M98.37,331.76V342.73M96.87,331.76h3M96.87,342.73h3" stroke="#777" stroke-width="0.6" fill="none"/>
<path d="M105.47,367.40V371.79M103.97,367.40h3M103.97,371.79h3" stroke="#777" stroke-width="0.6" fill="none"/>
<path d="M112.57,381.66V383.30M111.07,381.66h3M111.07,383.30h3" stroke="#777" stroke-width="0.6" fill="none"/>
<path d="M119.67,396.46V402.49M118.17,396.46h3M118.17,402.49h3" stroke="#777" stroke-width="0.6" fill="none"/>
<rect x="131.44" y="312.57" width="7.10" height="103.63" fill="#fdc596" stroke="#606060" stroke-width="0.75"/>
<rect x="138.54" y="340.53" width="7.10" height="75.67" fill="url(#pg)" stroke="#606060" stroke-width="0.75"/>
<rect x="145.64" y="372.34" width="7.10" height="43.86" fill="url(#pp)" stroke="#606060" stroke-width="0.75"/>
<rect x="152.74" y="383.58" width="7.10" height="32.62" fill="url(#py)" stroke="#606060" stroke-width="0.75"/>
<rect x="159.84" y="397.01" width="7.10" height="19.19" fill="url(#pbC)" stroke="#606060" stroke-width="0.75"/>
<path d="M134.99,307.91V317.23M133.49,307.91h3M133.49,317.23h3" stroke="#777" stroke-width="0.6" fill="none"/>
<path d="M142.09,334.78V346.29M140.59,334.78h3M140.59,346.29h3" stroke="#777" stroke-width="0.6" fill="none"/>
<path d="M149.19,369.87V374.80M147.69,369.87h3M147.69,374.80h3" stroke="#777" stroke-width="0.6" fill="none"/>
<path d="M156.29,382.48V384.67M154.79,382.48h3M154.79,384.67h3" stroke="#777" stroke-width="0.6" fill="none"/>
<path d="M163.39,392.62V401.40M161.89,392.62h3M161.89,401.40h3" stroke="#777" stroke-width="0.6" fill="none"/>
<rect x="175.16" y="305.44" width="7.10" height="110.76" fill="#fdc596" stroke="#606060" stroke-width="0.75"/>
<rect x="182.26" y="339.44" width="7.10" height="76.76" fill="url(#pg)" stroke="#606060" stroke-width="0.75"/>
<rect x="189.36" y="377.27" width="7.10" height="38.93" fill="url(#pp)" stroke="#606060" stroke-width="0.75"/>
<rect x="196.46" y="386.59" width="7.10" height="29.61" fill="url(#py)" stroke="#606060" stroke-width="0.75"/>
<rect x="203.56" y="397.28" width="7.10" height="18.92" fill="url(#pbC)" stroke="#606060" stroke-width="0.75"/>
<path d="M178.71,301.06V309.83M177.21,301.06h3M177.21,309.83h3" stroke="#777" stroke-width="0.6" fill="none"/>
<path d="M185.81,335.60V343.28M184.31,335.60h3M184.31,343.28h3" stroke="#777" stroke-width="0.6" fill="none"/>
<path d="M192.91,375.63V378.92M191.41,375.63h3M191.41,378.92h3" stroke="#777" stroke-width="0.6" fill="none"/>
<path d="M200.01,386.04V387.14M198.51,386.04h3M198.51,387.14h3" stroke="#777" stroke-width="0.6" fill="none"/>
<path d="M207.11,395.09V399.48M205.61,395.09h3M205.61,399.48h3" stroke="#777" stroke-width="0.6" fill="none"/>
<rect x="218.88" y="298.86" width="7.10" height="117.34" fill="#fdc596" stroke="#606060" stroke-width="0.75"/>
<rect x="225.98" y="341.36" width="7.10" height="74.84" fill="url(#pg)" stroke="#606060" stroke-width="0.75"/>
<rect x="233.08" y="382.48" width="7.10" height="33.72" fill="url(#pp)" stroke="#606060" stroke-width="0.75"/>
<rect x="240.18" y="387.41" width="7.10" height="28.79" fill="url(#py)" stroke="#606060" stroke-width="0.75"/>
<rect x="247.28" y="397.28" width="7.10" height="18.92" fill="url(#pbC)" stroke="#606060" stroke-width="0.75"/>
<path d="M222.43,291.46V306.26M220.93,291.46h3M220.93,306.26h3" stroke="#777" stroke-width="0.6" fill="none"/>
<path d="M229.53,334.78V347.94M228.03,334.78h3M228.03,347.94h3" stroke="#777" stroke-width="0.6" fill="none"/>
<path d="M236.63,379.74V385.22M235.13,379.74h3M235.13,385.22h3" stroke="#777" stroke-width="0.6" fill="none"/>
<path d="M243.73,384.67V390.16M242.23,384.67h3M242.23,390.16h3" stroke="#777" stroke-width="0.6" fill="none"/>
<path d="M250.83,392.35V402.22M249.33,392.35h3M249.33,402.22h3" stroke="#777" stroke-width="0.6" fill="none"/>
<rect x="39.4" y="238" width="219.1" height="178.2" fill="none" stroke="#6e6e6e" stroke-width="1.2"/>
<line x1="36.4" y1="416.20" x2="39.4" y2="416.20" stroke="#6e6e6e" stroke-width="1"/>
<text transform="translate(32.50,419.30) scale(1,1.09)" font-size="9.3" text-anchor="end" fill="#222" stroke="#222" stroke-width="0.1">0</text>
<line x1="37.4" y1="402.49" x2="39.4" y2="402.49" stroke="#6e6e6e" stroke-width="1"/>
<line x1="36.4" y1="388.78" x2="39.4" y2="388.78" stroke="#6e6e6e" stroke-width="1"/>
<text transform="translate(32.50,391.88) scale(1,1.09)" font-size="9.3" text-anchor="end" fill="#222" stroke="#222" stroke-width="0.1">10</text>
<line x1="37.4" y1="375.08" x2="39.4" y2="375.08" stroke="#6e6e6e" stroke-width="1"/>
<line x1="36.4" y1="361.37" x2="39.4" y2="361.37" stroke="#6e6e6e" stroke-width="1"/>
<text transform="translate(32.50,364.47) scale(1,1.09)" font-size="9.3" text-anchor="end" fill="#222" stroke="#222" stroke-width="0.1">20</text>
<line x1="37.4" y1="347.66" x2="39.4" y2="347.66" stroke="#6e6e6e" stroke-width="1"/>
<line x1="36.4" y1="333.95" x2="39.4" y2="333.95" stroke="#6e6e6e" stroke-width="1"/>
<text transform="translate(32.50,337.05) scale(1,1.09)" font-size="9.3" text-anchor="end" fill="#222" stroke="#222" stroke-width="0.1">30</text>
<line x1="37.4" y1="320.25" x2="39.4" y2="320.25" stroke="#6e6e6e" stroke-width="1"/>
<line x1="36.4" y1="306.54" x2="39.4" y2="306.54" stroke="#6e6e6e" stroke-width="1"/>
<text transform="translate(32.50,309.64) scale(1,1.09)" font-size="9.3" text-anchor="end" fill="#222" stroke="#222" stroke-width="0.1">40</text>
<line x1="37.4" y1="292.83" x2="39.4" y2="292.83" stroke="#6e6e6e" stroke-width="1"/>
<line x1="36.4" y1="279.12" x2="39.4" y2="279.12" stroke="#6e6e6e" stroke-width="1"/>
<text transform="translate(32.50,282.22) scale(1,1.09)" font-size="9.3" text-anchor="end" fill="#222" stroke="#222" stroke-width="0.1">50</text>
<line x1="37.4" y1="265.42" x2="39.4" y2="265.42" stroke="#6e6e6e" stroke-width="1"/>
<line x1="36.4" y1="251.71" x2="39.4" y2="251.71" stroke="#6e6e6e" stroke-width="1"/>
<text transform="translate(32.50,254.81) scale(1,1.09)" font-size="9.3" text-anchor="end" fill="#222" stroke="#222" stroke-width="0.1">60</text>
<line x1="37.4" y1="238.00" x2="39.4" y2="238.00" stroke="#6e6e6e" stroke-width="1"/>
<line x1="61.75" y1="416.2" x2="61.75" y2="419.2" stroke="#6e6e6e" stroke-width="1"/>
<text transform="translate(61.75,429.40) scale(1,1.0)" font-size="9.5" text-anchor="middle" fill="#222" stroke="#222" stroke-width="0.1">1<tspan font-size="6.1" dy="-3.8">st</tspan><tspan dy="3.8"> layer</tspan></text>
<line x1="105.47" y1="416.2" x2="105.47" y2="419.2" stroke="#6e6e6e" stroke-width="1"/>
<text transform="translate(105.47,429.40) scale(1,1.0)" font-size="9.5" text-anchor="middle" fill="#222" stroke="#222" stroke-width="0.1">2<tspan font-size="6.1" dy="-3.8">nd</tspan><tspan dy="3.8"> layer</tspan></text>
<line x1="149.19" y1="416.2" x2="149.19" y2="419.2" stroke="#6e6e6e" stroke-width="1"/>
<text transform="translate(149.19,429.40) scale(1,1.0)" font-size="9.5" text-anchor="middle" fill="#222" stroke="#222" stroke-width="0.1">3<tspan font-size="6.1" dy="-3.8">rd</tspan><tspan dy="3.8"> layer</tspan></text>
<line x1="192.91" y1="416.2" x2="192.91" y2="419.2" stroke="#6e6e6e" stroke-width="1"/>
<text transform="translate(192.91,429.40) scale(1,1.0)" font-size="9.5" text-anchor="middle" fill="#222" stroke="#222" stroke-width="0.1">4<tspan font-size="6.1" dy="-3.8">th</tspan><tspan dy="3.8"> layer</tspan></text>
<line x1="236.63" y1="416.2" x2="236.63" y2="419.2" stroke="#6e6e6e" stroke-width="1"/>
<text transform="translate(236.63,429.40) scale(1,1.0)" font-size="9.5" text-anchor="middle" fill="#222" stroke="#222" stroke-width="0.1">5<tspan font-size="6.1" dy="-3.8">th</tspan><tspan dy="3.8"> layer</tspan></text>
<rect x="180.5" y="242.8" width="76.1" height="41.6" fill="#000"/>
<rect x="177.8" y="240.4" width="76.1" height="41.6" fill="#fff" stroke="#888" stroke-width="0.7"/>
<rect x="178.3" y="240.60" width="15" height="7.2" fill="#fdc596" stroke="#555" stroke-width="0.7"/>
<text transform="translate(195.60,246.60) scale(1,1.09)" font-size="6.6" fill="#2a2a2a">β-sheet</text>
<rect x="178.3" y="248.90" width="15" height="7.2" fill="url(#pg)" stroke="#555" stroke-width="0.7"/>
<text transform="translate(195.60,254.90) scale(1,1.09)" font-size="6.6" fill="#2a2a2a">Random coil</text>
<rect x="178.3" y="257.20" width="15" height="7.2" fill="url(#pp)" stroke="#555" stroke-width="0.7"/>
<text transform="translate(195.60,263.20) scale(1,1.09)" font-size="6.6" fill="#2a2a2a">β-turns</text>
<rect x="178.3" y="265.50" width="15" height="7.2" fill="url(#py)" stroke="#555" stroke-width="0.7"/>
<text transform="translate(195.60,271.50) scale(1,1.09)" font-size="6.6" fill="#2a2a2a">α-helix</text>
<rect x="178.3" y="273.80" width="15" height="7.2" fill="url(#pbL)" stroke="#555" stroke-width="0.7"/>
<text transform="translate(195.60,279.80) scale(1,1.09)" font-size="6.6" fill="#2a2a2a">Aggregated strands</text>
<text transform="translate(48.50,258.60) scale(1,1.09)" font-size="18" font-weight="bold" fill="#000">C</text>
<text transform="translate(16.90,326.60) rotate(-90) scale(1.05,1)" font-size="14.6" text-anchor="middle" fill="#222" stroke="#222" stroke-width="0.1">Proportion (%)</text>
<text transform="translate(148.50,447.80) scale(1,1.09)" font-size="14.9" text-anchor="middle" fill="#222" stroke="#222" stroke-width="0.1">Silkworm cocoon layer</text>
<rect x="320.60" y="339.36" width="7.22" height="74.84" fill="#fdc596" stroke="#606060" stroke-width="0.75"/>
<rect x="327.82" y="321.26" width="7.22" height="92.94" fill="url(#pg)" stroke="#606060" stroke-width="0.75"/>
<rect x="335.04" y="355.26" width="7.22" height="58.94" fill="url(#pp)" stroke="#606060" stroke-width="0.75"/>
<rect x="342.26" y="378.01" width="7.22" height="36.19" fill="url(#py)" stroke="#606060" stroke-width="0.75"/>
<rect x="349.48" y="404.06" width="7.22" height="10.14" fill="url(#pbD)" stroke="#606060" stroke-width="0.75"/>
<path d="M324.21,335.24V343.47M322.71,335.24h3M322.71,343.47h3" stroke="#777" stroke-width="0.6" fill="none"/>
<path d="M331.43,317.97V324.55M329.93,317.97h3M329.93,324.55h3" stroke="#777" stroke-width="0.6" fill="none"/>
<path d="M338.65,353.06V357.45M337.15,353.06h3M337.15,357.45h3" stroke="#777" stroke-width="0.6" fill="none"/>
<path d="M345.87,376.92V379.11M344.37,376.92h3M344.37,379.11h3" stroke="#777" stroke-width="0.6" fill="none"/>
<path d="M353.09,402.69V405.43M351.59,402.69h3M351.59,405.43h3" stroke="#777" stroke-width="0.6" fill="none"/>
<rect x="365.10" y="328.39" width="7.22" height="85.81" fill="#fdc596" stroke="#606060" stroke-width="0.75"/>
<rect x="372.32" y="326.74" width="7.22" height="87.46" fill="url(#pg)" stroke="#606060" stroke-width="0.75"/>
<rect x="379.54" y="359.37" width="7.22" height="54.83" fill="url(#pp)" stroke="#606060" stroke-width="0.75"/>
<rect x="386.76" y="381.58" width="7.22" height="32.62" fill="url(#py)" stroke="#606060" stroke-width="0.75"/>
<rect x="393.98" y="401.59" width="7.22" height="12.61" fill="url(#pbD)" stroke="#606060" stroke-width="0.75"/>
<path d="M368.71,323.18V333.60M367.21,323.18h3M367.21,333.60h3" stroke="#777" stroke-width="0.6" fill="none"/>
<path d="M375.93,323.46V330.03M374.43,323.46h3M374.43,330.03h3" stroke="#777" stroke-width="0.6" fill="none"/>
<path d="M383.15,356.90V361.84M381.65,356.90h3M381.65,361.84h3" stroke="#777" stroke-width="0.6" fill="none"/>
<path d="M390.37,380.75V382.40M388.87,380.75h3M388.87,382.40h3" stroke="#777" stroke-width="0.6" fill="none"/>
<path d="M397.59,400.49V402.69M396.09,400.49h3M396.09,402.69h3" stroke="#777" stroke-width="0.6" fill="none"/>
<rect x="409.60" y="325.10" width="7.22" height="89.10" fill="#fdc596" stroke="#606060" stroke-width="0.75"/>
<rect x="416.82" y="328.12" width="7.22" height="86.08" fill="url(#pg)" stroke="#606060" stroke-width="0.75"/>
<rect x="424.04" y="362.66" width="7.22" height="51.54" fill="url(#pp)" stroke="#606060" stroke-width="0.75"/>
<rect x="431.26" y="382.40" width="7.22" height="31.80" fill="url(#py)" stroke="#606060" stroke-width="0.75"/>
<rect x="438.48" y="400.22" width="7.22" height="13.98" fill="url(#pbD)" stroke="#606060" stroke-width="0.75"/>
<path d="M413.21,319.34V330.86M411.71,319.34h3M411.71,330.86h3" stroke="#777" stroke-width="0.6" fill="none"/>
<path d="M420.43,322.91V333.32M418.93,322.91h3M418.93,333.32h3" stroke="#777" stroke-width="0.6" fill="none"/>
<path d="M427.65,359.37V365.95M426.15,359.37h3M426.15,365.95h3" stroke="#777" stroke-width="0.6" fill="none"/>
<path d="M434.87,381.85V382.95M433.37,381.85h3M433.37,382.95h3" stroke="#777" stroke-width="0.6" fill="none"/>
<path d="M442.09,397.48V402.96M440.59,397.48h3M440.59,402.96h3" stroke="#777" stroke-width="0.6" fill="none"/>
<rect x="454.10" y="322.36" width="7.22" height="91.84" fill="#fdc596" stroke="#606060" stroke-width="0.75"/>
<rect x="461.32" y="328.12" width="7.22" height="86.08" fill="url(#pg)" stroke="#606060" stroke-width="0.75"/>
<rect x="468.54" y="364.03" width="7.22" height="50.17" fill="url(#pp)" stroke="#606060" stroke-width="0.75"/>
<rect x="475.76" y="382.40" width="7.22" height="31.80" fill="url(#py)" stroke="#606060" stroke-width="0.75"/>
<rect x="482.98" y="401.31" width="7.22" height="12.89" fill="url(#pbD)" stroke="#606060" stroke-width="0.75"/>
<path d="M457.71,319.89V324.83M456.21,319.89h3M456.21,324.83h3" stroke="#777" stroke-width="0.6" fill="none"/>
<path d="M464.93,325.65V330.58M463.43,325.65h3M463.43,330.58h3" stroke="#777" stroke-width="0.6" fill="none"/>
<path d="M472.15,361.29V366.77M470.65,361.29h3M470.65,366.77h3" stroke="#777" stroke-width="0.6" fill="none"/>
<path d="M479.37,381.58V383.22M477.87,381.58h3M477.87,383.22h3" stroke="#777" stroke-width="0.6" fill="none"/>
<path d="M486.59,399.94V402.69M485.09,399.94h3M485.09,402.69h3" stroke="#777" stroke-width="0.6" fill="none"/>
<rect x="498.60" y="318.52" width="7.22" height="95.68" fill="#fdc596" stroke="#606060" stroke-width="0.75"/>
<rect x="505.82" y="328.12" width="7.22" height="86.08" fill="url(#pg)" stroke="#606060" stroke-width="0.75"/>
<rect x="513.04" y="372.25" width="7.22" height="41.95" fill="url(#pp)" stroke="#606060" stroke-width="0.75"/>
<rect x="520.26" y="385.69" width="7.22" height="28.51" fill="url(#py)" stroke="#606060" stroke-width="0.75"/>
<rect x="527.48" y="399.12" width="7.22" height="15.08" fill="url(#pbD)" stroke="#606060" stroke-width="0.75"/>
<path d="M502.21,312.49V324.55M500.71,312.49h3M500.71,324.55h3" stroke="#777" stroke-width="0.6" fill="none"/>
<path d="M509.43,323.46V332.78M507.93,323.46h3M507.93,332.78h3" stroke="#777" stroke-width="0.6" fill="none"/>
<path d="M516.65,365.67V378.83M515.15,365.67h3M515.15,378.83h3" stroke="#777" stroke-width="0.6" fill="none"/>
<path d="M523.87,384.59V386.78M522.37,384.59h3M522.37,386.78h3" stroke="#777" stroke-width="0.6" fill="none"/>
<path d="M531.09,395.01V403.23M529.59,395.01h3M529.59,403.23h3" stroke="#777" stroke-width="0.6" fill="none"/>
<rect x="316.4" y="236" width="222.10000000000002" height="178.2" fill="none" stroke="#6e6e6e" stroke-width="1.2"/>
<line x1="313.4" y1="414.20" x2="316.4" y2="414.20" stroke="#6e6e6e" stroke-width="1"/>
<text transform="translate(309.50,418.10) scale(1,1.09)" font-size="9.8" text-anchor="end" fill="#222" stroke="#222" stroke-width="0.1">0</text>
<line x1="314.4" y1="400.49" x2="316.4" y2="400.49" stroke="#6e6e6e" stroke-width="1"/>
<line x1="313.4" y1="386.78" x2="316.4" y2="386.78" stroke="#6e6e6e" stroke-width="1"/>
<text transform="translate(309.50,390.68) scale(1,1.09)" font-size="9.8" text-anchor="end" fill="#222" stroke="#222" stroke-width="0.1">10</text>
<line x1="314.4" y1="373.08" x2="316.4" y2="373.08" stroke="#6e6e6e" stroke-width="1"/>
<line x1="313.4" y1="359.37" x2="316.4" y2="359.37" stroke="#6e6e6e" stroke-width="1"/>
<text transform="translate(309.50,363.27) scale(1,1.09)" font-size="9.8" text-anchor="end" fill="#222" stroke="#222" stroke-width="0.1">20</text>
<line x1="314.4" y1="345.66" x2="316.4" y2="345.66" stroke="#6e6e6e" stroke-width="1"/>
<line x1="313.4" y1="331.95" x2="316.4" y2="331.95" stroke="#6e6e6e" stroke-width="1"/>
<text transform="translate(309.50,335.85) scale(1,1.09)" font-size="9.8" text-anchor="end" fill="#222" stroke="#222" stroke-width="0.1">30</text>
<line x1="314.4" y1="318.25" x2="316.4" y2="318.25" stroke="#6e6e6e" stroke-width="1"/>
<line x1="313.4" y1="304.54" x2="316.4" y2="304.54" stroke="#6e6e6e" stroke-width="1"/>
<text transform="translate(309.50,308.44) scale(1,1.09)" font-size="9.8" text-anchor="end" fill="#222" stroke="#222" stroke-width="0.1">40</text>
<line x1="314.4" y1="290.83" x2="316.4" y2="290.83" stroke="#6e6e6e" stroke-width="1"/>
<line x1="313.4" y1="277.12" x2="316.4" y2="277.12" stroke="#6e6e6e" stroke-width="1"/>
<text transform="translate(309.50,281.02) scale(1,1.09)" font-size="9.8" text-anchor="end" fill="#222" stroke="#222" stroke-width="0.1">50</text>
<line x1="314.4" y1="263.42" x2="316.4" y2="263.42" stroke="#6e6e6e" stroke-width="1"/>
<line x1="313.4" y1="249.71" x2="316.4" y2="249.71" stroke="#6e6e6e" stroke-width="1"/>
<text transform="translate(309.50,253.61) scale(1,1.09)" font-size="9.8" text-anchor="end" fill="#222" stroke="#222" stroke-width="0.1">60</text>
<line x1="314.4" y1="236.00" x2="316.4" y2="236.00" stroke="#6e6e6e" stroke-width="1"/>
<line x1="338.65" y1="414.2" x2="338.65" y2="417.2" stroke="#6e6e6e" stroke-width="1"/>
<text transform="translate(338.65,428.00) scale(1,1.0)" font-size="9.5" text-anchor="middle" fill="#222" stroke="#222" stroke-width="0.1">1<tspan font-size="6.1" dy="-3.8">st</tspan><tspan dy="3.8"> layer</tspan></text>
<line x1="383.15" y1="414.2" x2="383.15" y2="417.2" stroke="#6e6e6e" stroke-width="1"/>
<text transform="translate(383.15,428.00) scale(1,1.0)" font-size="9.5" text-anchor="middle" fill="#222" stroke="#222" stroke-width="0.1">2<tspan font-size="6.1" dy="-3.8">nd</tspan><tspan dy="3.8"> layer</tspan></text>
<line x1="427.65" y1="414.2" x2="427.65" y2="417.2" stroke="#6e6e6e" stroke-width="1"/>
<text transform="translate(427.65,428.00) scale(1,1.0)" font-size="9.5" text-anchor="middle" fill="#222" stroke="#222" stroke-width="0.1">3<tspan font-size="6.1" dy="-3.8">rd</tspan><tspan dy="3.8"> layer</tspan></text>
<line x1="472.15" y1="414.2" x2="472.15" y2="417.2" stroke="#6e6e6e" stroke-width="1"/>
<text transform="translate(472.15,428.00) scale(1,1.0)" font-size="9.5" text-anchor="middle" fill="#222" stroke="#222" stroke-width="0.1">4<tspan font-size="6.1" dy="-3.8">th</tspan><tspan dy="3.8"> layer</tspan></text>
<line x1="516.65" y1="414.2" x2="516.65" y2="417.2" stroke="#6e6e6e" stroke-width="1"/>
<text transform="translate(516.65,428.00) scale(1,1.0)" font-size="9.5" text-anchor="middle" fill="#222" stroke="#222" stroke-width="0.1">5<tspan font-size="6.1" dy="-3.8">th</tspan><tspan dy="3.8"> layer</tspan></text>
<rect x="460.0" y="241.1" width="76.8" height="40.9" fill="#000"/>
<rect x="457.3" y="238.7" width="76.8" height="40.9" fill="#fff" stroke="#888" stroke-width="0.7"/>
<rect x="457.8" y="238.90" width="15" height="7.2" fill="#fdc596" stroke="#555" stroke-width="0.7"/>
<text transform="translate(475.10,244.90) scale(1,1.09)" font-size="6.6" fill="#2a2a2a">β-sheet</text>
<rect x="457.8" y="247.20" width="15" height="7.2" fill="url(#pg)" stroke="#555" stroke-width="0.7"/>
<text transform="translate(475.10,253.20) scale(1,1.09)" font-size="6.6" fill="#2a2a2a">Random coil</text>
<rect x="457.8" y="255.50" width="15" height="7.2" fill="url(#pp)" stroke="#555" stroke-width="0.7"/>
<text transform="translate(475.10,261.50) scale(1,1.09)" font-size="6.6" fill="#2a2a2a">β-turns</text>
<rect x="457.8" y="263.80" width="15" height="7.2" fill="url(#py)" stroke="#555" stroke-width="0.7"/>
<text transform="translate(475.10,269.80) scale(1,1.09)" font-size="6.6" fill="#2a2a2a">α-helix</text>
<rect x="457.8" y="272.10" width="15" height="7.2" fill="url(#pbL2)" stroke="#555" stroke-width="0.7"/>
<text transform="translate(475.10,278.10) scale(1,1.09)" font-size="6.6" fill="#2a2a2a">Aggregated strands</text>
<text transform="translate(325.50,257.80) scale(1,1.09)" font-size="18" font-weight="bold" fill="#000">D</text>
<text transform="translate(293.30,325.00) rotate(-90) scale(1.05,1)" font-size="14.6" text-anchor="middle" fill="#222" stroke="#222" stroke-width="0.1">Proportion (%)</text>
<text transform="translate(427.70,446.20) scale(1,1.09)" font-size="15.15" text-anchor="middle" fill="#222" stroke="#222" stroke-width="0.1">Silkworm cocoon layer</text>
</svg>
</body></html>
